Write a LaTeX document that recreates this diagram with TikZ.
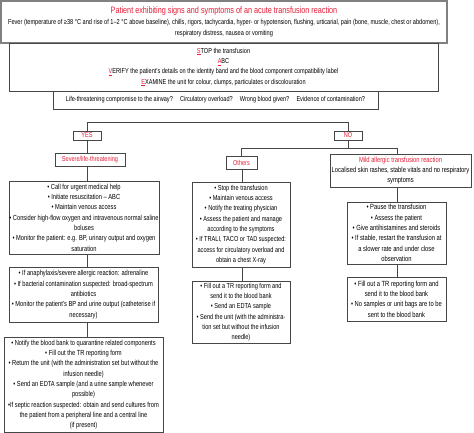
\documentclass[tikz,border=0pt]{standalone}
\usepackage{fontspec}
\setmainfont{Liberation Sans}[FakeStretch=0.78]
\usetikzlibrary{positioning,calc}
\definecolor{alertred}{RGB}{228,30,55}
\definecolor{boxgray}{RGB}{70,70,70}
\newcommand{\firstletter}[1]{\textcolor{alertred}{\underline{#1}}}
\newcommand{\headline}[1]{{\fontsize{9.3}{11}\selectfont\textcolor{alertred}{#1}}}

\begin{document}
\begin{tikzpicture}[x=1pt, y=-1pt,
   box/.style={draw=boxgray, line width=0.7pt, fill=white, inner sep=1pt,
     align=center, font=\fontsize{7.15}{10.3}\selectfont},
   leftcol/.style={font=\fontsize{7.35}{10.3}\selectfont, inner sep=0.5pt},
   midcol/.style={font=\fontsize{7.2}{10.3}\selectfont},
   rightcol/.style={font=\fontsize{7.45}{10.3}\selectfont},
   tag/.style={box, text=alertred},
   link/.style={draw=boxgray, line width=0.7pt}]
   \useasboundingbox (0,0) rectangle (474,433);
   % top: signs, first steps, questions
   \node[box, draw=gray, line width=1.1pt, minimum width=446pt, minimum height=42pt,
     font=\fontsize{7.2}{10.8}\selectfont] (signs) at (224,22)
     {\headline{Patient exhibiting signs and symptoms of an acute transfusion reaction}\\
      Fever (temperature of ≥38 °C and rise of 1–2 °C above baseline), chills, rigors, tachycardia, hyper- or hypotension, flushing, urticarial, pain (bone, muscle, chest or abdomen),\\
      respiratory distress, nausea or vomiting};
   \node[box, minimum width=429pt, minimum height=48pt] (stop) at (223.5,67)
     {\firstletter{S}TOP the transfusion\\
      \firstletter{A}BC\\
      \firstletter{V}ERIFY the patient's details on the identity band and the blood component compatibility label\\
      \firstletter{E}XAMINE the unit for colour, clumps, particulates or discolouration};
   \node[box, minimum width=325pt, minimum height=18pt] (ask) at (215.5,100)
     {Life-threatening compromise to the airway?\quad Circulatory overload?\quad Wrong blood given?\quad Evidence of contamination?};
   % yes / no
   \coordinate (bar1) at (0,122);
   \node[tag, minimum width=28pt, minimum height=9pt] (yes) at (87,135.5) {YES};
   \node[tag, minimum width=28pt, minimum height=9pt] (no) at (348,135.5) {NO};
   \draw[link] (yes.north) -- (yes.north |- bar1) -- (no.north |- bar1) -- (no.north);
   % severe branch
   \node[tag, minimum width=70pt, minimum height=13pt] (severe) at (90,159.5) {Severe/life-threatening};
   \node[box, leftcol, minimum width=150pt, minimum height=73pt] (urgent) at (84,217.5)
     {• Call for urgent medical help\\
      • Initiate resuscitation – ABC\\
      • Maintain venous access\\
      • Consider high-flow oxygen and intravenous normal saline\\
      boluses\\
      • Monitor the patient: e.g. BP, urinary output and oxygen\\
      saturation};
   \node[box, leftcol, minimum width=149pt, minimum height=55pt] (treat) at (83.5,294.5)
     {• If anaphylaxis/severe allergic reaction: adrenaline\\
      • If bacterial contamination suspected: broad-spectrum\\
      antibiotics\\
      • Monitor the patient's BP and urine output (catheterise if\\
      necessary)};
   \node[box, leftcol, minimum width=159pt, minimum height=95pt] (report) at (83.5,384.5)
     {• Notify the blood bank to quarantine related components\\
      • Fill out the TR reporting form\\
      • Return the unit (with the administration set but without the\\
      infusion needle)\\
      • Send an EDTA sample (and a urine sample whenever\\
      possible)\\
      •If septic reaction suspected: obtain and send cultures from\\
      the patient from a peripheral line and a central line\\
      (if present)};
   \draw[link] (yes.south) -- (yes.south |- severe.north);
   \draw[link] (severe.south -| yes) -- (urgent.north -| yes);
   \draw[link] (urgent.south -| yes) -- (treat.north -| yes);
   \draw[link] (treat.south -| yes) -- (report.north -| yes);
   % no branch
   \coordinate (bar2) at (0,148);
   \node[tag, minimum width=31pt, minimum height=13pt] (others) at (241.5,162.5) {Others};
   \node[box, rightcol, minimum width=141pt, minimum height=33pt] (mild) at (400.5,170.5)
     {\textcolor{alertred}{Mild allergic transfusion reaction}\\
      Localised skin rashes, stable vitals and no respiratory\\
      symptoms};
   \draw[link] (no.south) -- (no.south |- bar2);
   \draw[link] (others.north) -- (others.north |- bar2) -- (bar2 -| 397,0) -- (mild.north -| 397,0);
   \node[box, midcol, minimum width=98pt, minimum height=85pt] (manage) at (241,224.5)
     {• Stop the transfusion\\
      • Maintain venous access\\
      • Notify the treating physician\\
      • Assess the patient and manage\\
      according to the symptoms\\
      • If TRALI, TACO or TAD suspected:\\
      access for circulatory overload and\\
      obtain a chest X-ray};
   \node[box, midcol, minimum width=98pt, minimum height=62pt] (sendunit) at (241,312)
     {• Fill out a TR reporting form and\\
      send it to the blood bank\\
      • Send an EDTA sample\\
      • Send the unit (with the administra-\\
      tion set but without the infusion\\
      needle)};
   \node[box, rightcol, minimum width=99pt, minimum height=62pt] (pause) at (396.5,233)
     {• Pause the transfusion\\
      • Assess the patient\\
      • Give antihistamines and steroids\\
      • If stable, restart the transfusion at\\
      a slower rate and under close\\
      observation};
   \node[box, rightcol, minimum width=99pt, minimum height=44pt] (nosample) at (396.5,299)
     {• Fill out a TR reporting form and\\
      send it to the blood bank\\
      • No samples or unit bags are to be\\
      sent to the blood bank};
   \draw[link] (others.south -| 242,0) -- (manage.north -| 242,0);
   \draw[link] (manage.south -| 242,0) -- (sendunit.north -| 242,0);
   \draw[link] (mild.south -| 397,0) -- (pause.north -| 397,0);
   \draw[link] (pause.south -| 397,0) -- (nosample.north -| 397,0);
\end{tikzpicture}
\end{document}
